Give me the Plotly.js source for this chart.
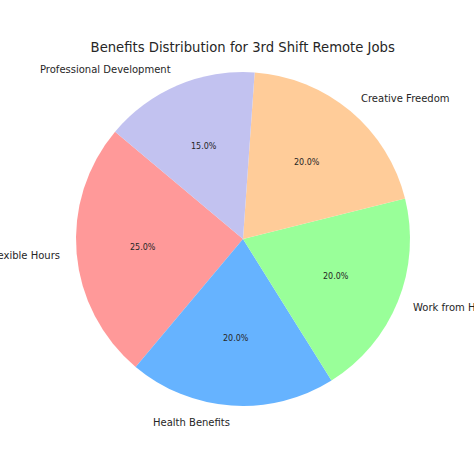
<!DOCTYPE html>
<html>
<head>
<meta charset="utf-8">
<script src="https://cdn.plot.ly/plotly-3.0.1.min.js"></script>
<style>html,body{margin:0;padding:0;background:#fff;}#chart{width:474px;height:474px;}</style>
</head>
<body>
<div id="chart"></div>
<script>
const categories = ["Flexible Hours", "Health Benefits", "Work from Home", "Creative Freedom", "Professional Development"];
const shares = [25, 20, 20, 20, 15];
const sliceColors = ["#ff9999", "#66b3ff", "#99ff99", "#ffcc99", "#c2c2f0"];
const titleText = "Benefits Distribution for 3rd Shift Remote Jobs";

const startAngle = 140; // degrees, counterclockwise from 3 o'clock
const total = shares.reduce((a, b) => a + b, 0);

// annotations (labels at 1.1 r, percents at 0.6 r), computed from data
const annotations = [];
let acc = startAngle;
shares.forEach((v, i) => {
  const mid = (acc + v / total * 360 / 2) * Math.PI / 180;
  acc += v / total * 360;
  const cx = Math.cos(mid), cy = Math.sin(mid);
  annotations.push({
    xref: "paper", yref: "paper",
    x: 0.5 + 0.5 * 1.1 * cx, y: 0.5 + 0.5 * 1.1 * cy,
    text: categories[i], showarrow: false,
    xanchor: cx > 0 ? "left" : "right", yanchor: "middle",
    borderpad: 0, borderwidth: 0,
    font: {family: "DejaVu Sans", size: 10, color: "#262626"}
  });
  annotations.push({
    xref: "paper", yref: "paper",
    x: 0.5 + 0.5 * 0.6 * cx, y: 0.5 + 0.5 * 0.6 * cy,
    text: (v / total * 100).toFixed(1) + "%", showarrow: false,
    xanchor: "center", yanchor: "middle",
    borderpad: 0, borderwidth: 0,
    font: {family: "DejaVu Sans", size: 8, color: "#262626"}
  });
});

const trace = {
  type: "pie",
  labels: categories,
  values: shares,
  marker: {colors: sliceColors, line: {width: 0}},
  sort: false,
  direction: "counterclockwise",
  rotation: -140,
  textinfo: "none",
  hoverinfo: "label+percent",
  showlegend: false
};

const layout = {
  width: 474, height: 474,
  margin: {l: 76, r: 64, t: 72, b: 68},
  paper_bgcolor: "#ffffff",
  plot_bgcolor: "#ffffff",
  title: {
    text: titleText,
    font: {family: "DejaVu Sans", size: 13.2, color: "#262626"},
    x: 0.512, xanchor: "center",
    y: 1 - 47 / 474, yanchor: "middle"
  },
  annotations: annotations,
  showlegend: false
};

Plotly.newPlot("chart", [trace], layout, {displayModeBar: false, staticPlot: true});
</script>
</body>
</html>
